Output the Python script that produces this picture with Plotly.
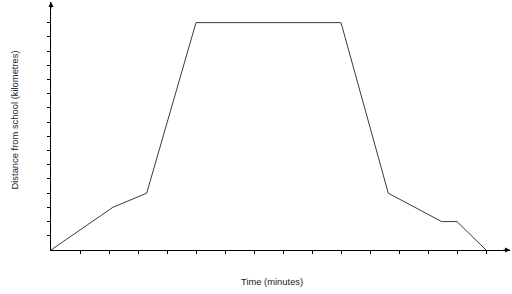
import plotly.graph_objects as go

# Data (x in tick units of time, y in distance units)
time_min = [0, 2.13, 3.3, 5, 10, 11.63, 13.47, 14, 15]
distance_km = [0, 3, 4, 16, 16, 4, 2, 2, 0]
x_ticks = list(range(1, 16))
y_ticks = list(range(1, 17))

W, H = 512, 294
L, R, T, B = 51, 2, 2, 44
pw, ph = W - L - R, H - T - B
x_unit, y_unit = 29.0, 14.21

fig = go.Figure()
fig.add_trace(go.Scatter(x=time_min, y=distance_km, mode="lines",
                         line=dict(color="#3a3a3a", width=1), hoverinfo="skip",
                         cliponaxis=False))

axis_common = dict(showgrid=False, zeroline=False, showline=True, linecolor="black",
                   linewidth=1, ticks="outside", ticklen=3, tickwidth=1,
                   tickcolor="black", showticklabels=False)
fig.update_layout(
    width=W, height=H, margin=dict(l=L, r=R, t=T, b=B),
    paper_bgcolor="white", plot_bgcolor="white", showlegend=False,
    xaxis=dict(range=[0, pw / x_unit], tickvals=x_ticks, **axis_common),
    yaxis=dict(range=[0, ph / y_unit], tickvals=y_ticks, **axis_common),
    font=dict(family="Liberation Sans, Arial, sans-serif", size=9.4, color="#222"),
)

# arrowheads
fig.add_annotation(x=pw / x_unit, y=0, xref="x", yref="y", ax=-8, ay=0, text="",
                   showarrow=True, arrowhead=2, arrowsize=1, arrowwidth=1, arrowcolor="black")
fig.add_annotation(x=0, y=ph / y_unit, xref="x", yref="y", ax=0, ay=8, text="",
                   showarrow=True, arrowhead=2, arrowsize=1, arrowwidth=1, arrowcolor="black")

fig.add_annotation(text="Time (minutes)", xref="paper", yref="paper",
                   x=(272 - L) / pw, y=(250 - 281.7) / ph, xanchor="center", yanchor="middle",
                   showarrow=False)
fig.add_annotation(text="Distance from school (kilometres)", xref="paper", yref="paper",
                   x=(13.5 - L) / pw, y=(250 - 120) / ph, xanchor="center", yanchor="middle",
                   textangle=-90, showarrow=False)

fig.write_html("out.html")
